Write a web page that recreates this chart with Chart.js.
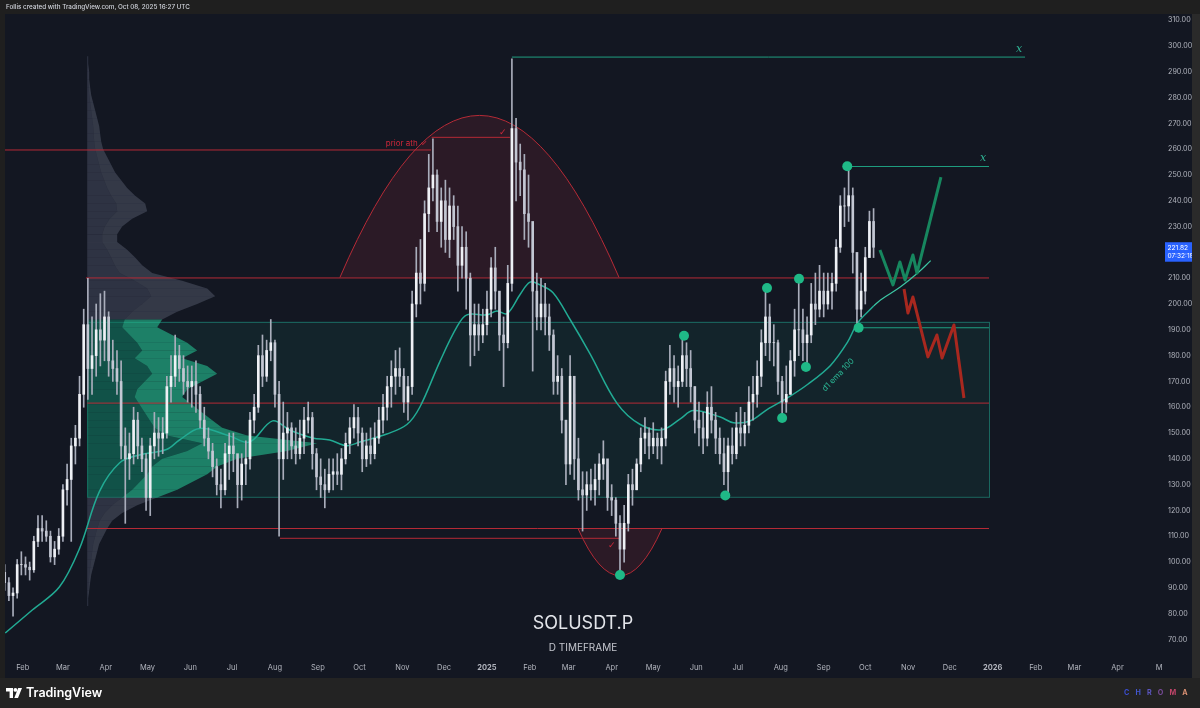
<!DOCTYPE html>
<html lang="en">
<head>
<meta charset="UTF-8">
<title>SOLUSDT.P D</title>
<script src="https://cdn.jsdelivr.net/npm/chart.js"></script>
<style>
  html, body { margin: 0; padding: 0; background: #1e1e1e; }
  #wrap { position: relative; width: 1200px; height: 708px; overflow: hidden; font-family: Inter, "Liberation Sans", sans-serif; }
  #chart { position: absolute; left: 0; top: 0; }
  .t { position: absolute; white-space: nowrap; }
  #hdr { left: 6px; top: 3px; font-size: 6.3px; color: #d1d4dc; font-weight: 500; }
  #sym { left: 433px; width: 300px; text-align: center; top: 612px; font-size: 18px; color: #e3e5ea; }
  #tf { left: 483px; width: 200px; text-align: center; top: 641px; font-size: 10px; color: #c4c6ce; }
  #logo { left: 6px; top: 685px; display: flex; align-items: center; gap: 4px; color: #ffffff; font-size: 12.5px; font-weight: 600; }
  #chroma { left: 1124px; top: 688px; font-size: 7.2px; font-weight: 700; letter-spacing: 6.1px; }
</style>
</head>
<body>
<div id="wrap">
  <canvas id="chart" width="1200" height="708"></canvas>
  <div class="t" id="hdr">Follis created with TradingView.com, Oct 08, 2025 16:27 UTC</div>
  <div class="t" id="sym">SOLUSDT.P</div>
  <div class="t" id="tf">D TIMEFRAME</div>
  <div class="t" id="logo">
    <svg width="16" height="10" viewBox="0 0 16 10"><path d="M0 0h7v10H3.6V3.4H0z" fill="#fff"/><circle cx="9.4" cy="1.9" r="1.9" fill="#fff"/><path d="M12.2 0H16l-4 10H8.3z" fill="#fff"/></svg>
    <span>TradingView</span>
  </div>
  <div class="t" id="chroma"><span style="color:#3b4fd6">C</span><span style="color:#4357d0">H</span><span style="color:#5c56c0">R</span><span style="color:#7a4c9c">O</span><span style="color:#c2456a">M</span><span style="color:#d99073">A</span></div>
</div>
<script>
// days counted from 2024-01-01, one candle sample every 3 days (18 = Jan 19 2024)
const firstDay = 18, dayStep = 3;
const firstOpen = 96;
const lows = [
  89,85,79,86,95,95,93,96,106,108,108,100,99,103,108,122,108,138,145,160,163,165,172,176,178,172,170,165,140,115,
  132,138,140,135,120,118,140,141,142,148,162,168,170,165,162,160,158,152,145,140,133,126,121,126,132,135,121,124,130,136,
  150,158,168,170,178,160,110,132,140,140,138,140,142,150,136,128,125,121,127,128,130,128,138,142,148,145,135,137,138,140,
  146,150,155,160,165,168,158,155,165,195,200,205,228,240,228,222,220,218,225,205,210,198,176,180,182,185,188,195,198,182,
  168,183,205,240,242,225,222,174,190,190,188,182,165,165,150,130,134,132,124,112,120,124,122,126,132,120,118,110,95,100,
  112,122,128,135,142,140,142,140,138,145,165,162,160,168,168,162,150,145,142,145,150,142,138,130,126,138,140,145,145,150,
  155,160,168,180,178,176,165,156,158,165,172,180,178,175,185,192,195,195,198,198,205,220,230,232,212,190,195,200,220,218
];
const highs = [
  99,94,90,101,104,102,100,110,118,118,116,112,108,113,130,138,148,153,172,198,210,195,200,204,205,197,186,182,178,152,
  150,160,158,148,142,148,158,156,156,172,180,188,184,180,176,176,178,168,160,152,146,140,136,146,150,150,140,142,147,158,
  165,184,188,186,194,186,170,162,158,154,152,155,160,162,158,144,140,136,140,140,142,144,150,156,161,160,152,150,152,154,
  160,165,172,178,182,183,175,172,205,222,225,240,258,264,252,245,248,245,242,238,230,228,212,200,200,198,205,218,222,198,
  195,215,295,272,262,258,250,225,212,210,208,200,190,180,175,150,180,165,148,135,135,136,138,142,147,136,130,125,118,122,
  134,136,140,152,156,152,154,150,152,174,184,180,176,187,185,182,168,162,158,166,168,158,152,148,148,152,158,160,158,168,
  172,178,190,206,200,192,186,172,176,182,198,209,198,195,208,212,215,212,212,212,225,242,245,253,245,215,212,222,236,237
];
const closes = [
  92,87,88,99,99,98,97,108,113,112,110,102,105,110,128,132,145,148,165,192,175,180,190,186,195,178,175,170,145,140,
  142,155,145,140,125,145,150,148,150,168,172,180,175,170,168,170,165,155,148,143,137,130,128,142,145,142,130,138,140,155,
  160,180,172,182,185,165,140,150,152,145,142,148,155,156,142,133,130,128,134,135,134,140,146,152,156,150,140,145,142,148,
  155,160,168,172,175,172,162,168,200,212,208,235,245,250,232,240,225,238,230,215,222,210,188,192,188,192,198,214,205,188,
  185,208,268,255,252,235,232,205,195,200,195,188,170,172,155,138,172,140,128,126,130,128,132,138,140,125,124,115,105,115,
  130,128,138,148,150,145,148,145,148,170,175,168,170,180,175,168,155,152,148,160,155,148,142,135,145,142,152,150,153,162,
  165,172,185,195,185,185,170,162,165,178,190,190,185,188,200,198,205,200,205,208,222,238,238,242,220,198,205,218,232,222
];

// d1 ema 100
const emaDays = [18.4,37.9,57.4,71.8,86.3,100.8,115.2,134.7,144.1,158.6,180.3,194.7,211.3,223.6,240.2,252.5,264.8,274.2,293.7,308.2,317.6,332,344.3,351.5,366,373.2,380.5,389.9,397.1,404.3,413.7,426,440.4,460,476.6,492.5,505.5,514.9,534.4,543.8,556.1,568.4,582.8,597.3,613.9,626.2,633.4,645];
const emaVals = [72.5,81.4,90.3,105,127.3,138.4,141.5,143.6,147.3,151.8,148.9,146.5,154.7,151.2,148.1,147.3,145.1,146.5,149.6,153.3,160.1,177.7,191.1,195.8,195.8,197.3,196.3,203.7,208.5,207.4,204.4,194,180.7,161.4,153.3,151.3,155.5,158.7,156.2,154,154.7,159.2,163.6,168.8,176.2,185.2,192.6,199.2];
const emaExtDays = [645,650,664.5,676.8,686.2];
const emaExtVals = [199.2,201.6,206.7,212,216.8];

// drawn projections
const bullDays = [649.6,659,664,667.7,673.4,676.3,693.6];
const bullVals = [220.9,207.4,216.3,209.3,219,212,249.2];
const bearDays = [667,669.8,673.4,684.2,690.7,694.4,703,710.2];
const bearVals = [205.8,196.5,202.7,179.5,188,179.1,191.9,163.6];

// pivot markers
const dotDays = [462,508.2,538,568.1,579,591.2,596.2,626,634.2];
const dotVals = [95,187.7,125.8,206.2,155.8,209.8,175.6,253.4,190.8];

// horizontal levels
const redLevels = [259.7,264.6,210.1,161.6,113,109.2];
const redFrom   = [0,326.1,76.6,77.5,76.6,216.6];
const redTo     = [325.6,382.6,728.3,728.3,728.3,462];
const greenLevels = [295.7,253.3,190.8];
const greenFrom   = [384,625.8,634.5];
const greenTo     = [754.3,728.3,728.3];

// range box and arcs
const boxFrom = 77.5, boxTo = 728.3, boxLow = 125.3, boxHigh = 193.1;
const arcs = [
  {from: 259.9, to: 461.3, base: 210.3, apex: 273.1},
  {from: 431.7, to: 492.3, base: 113, apex: 94.7}
];

// fixed range volume profile (rows of 3 from 296 down)
const profDay = 77.5, profTop = 296, profStep = 3;
const profVol = [
  1,1,2,2,3,4,6,8,10,12,13,14,
  16,20,24,28,34,40,48,58,60,45,35,30,
  30,40,48,55,65,95,120,128,110,90,75,70,
  85,100,110,95,120,130,115,100,95,105,115,125,
  135,160,230,200,150,130,120,105,90,70,50,35,
  25,20,16,12,10,8,6,4,3,2,1,1
];
const vaLow = 125, vaHigh = 193;

// axes
const monthDays = [31,60,91,121,152,182,213,244,274,305,335,366,397,425,456,486,517,547,578,609,639,670,700,731,762,790,821,851];
const monthLabels = ['Feb','Mar','Apr','May','Jun','Jul','Aug','Sep','Oct','Nov','Dec','2025','Feb','Mar','Apr','May','Jun','Jul','Aug','Sep','Oct','Nov','Dec','2026','Feb','Mar','Apr','M'];
const priceTicks = [70,80,90,100,110,120,130,140,150,160,170,180,190,200,210,220,230,240,250,260,270,280,290,300,310];
const lastPrice = 221.82, countdown = '07:32:18';

const RED = '#b52a36', TEAL = '#1f9e80', EMA = '#22ab94';

const sampleDays = closes.map((c, i) => firstDay + i * dayStep);
const wickData = sampleDays.map((d, i) => ({x: d, y: [lows[i], highs[i]]}));
const bodyData = sampleDays.map((d, i) => ({x: d, y: [i ? closes[i - 1] : firstOpen, closes[i]]}));
const pts = (xs, ys) => xs.map((x, i) => ({x: x, y: ys[i]}));

const datasets = [];
redLevels.forEach((p, i) => datasets.push({type: 'line', data: [{x: redFrom[i], y: p}, {x: redTo[i], y: p}], borderColor: RED, borderWidth: 1, pointRadius: 0, order: 20}));
greenLevels.forEach((p, i) => datasets.push({type: 'line', data: [{x: greenFrom[i], y: p}, {x: greenTo[i], y: p}], borderColor: TEAL, borderWidth: 1, pointRadius: 0, order: 20}));
datasets.push({type: 'line', data: pts(emaDays, emaVals), borderColor: EMA, borderWidth: 1.5, pointRadius: 0, tension: 0.35, order: 6});
datasets.push({type: 'bar', data: wickData, backgroundColor: '#a9adbb', barThickness: 1, grouped: false, order: 5});
datasets.push({type: 'bar', data: bodyData, grouped: false, barThickness: 2, order: 4,
  backgroundColor: ctx => { const i = ctx.dataIndex; const o = i ? closes[i - 1] : firstOpen; return closes[i] >= o ? '#eef0f5' : '#c3c7d3'; }});
datasets.push({type: 'line', data: pts(emaExtDays, emaExtVals), borderColor: '#3cc7a4', borderWidth: 1.2, pointRadius: 0, tension: 0.4, order: 3});
datasets.push({type: 'line', data: pts(bullDays, bullVals), borderColor: '#17875f', borderWidth: 3, pointRadius: 0, borderJoinStyle: 'round', order: 2});
datasets.push({type: 'line', data: pts(bearDays, bearVals), borderColor: '#a8281f', borderWidth: 3, pointRadius: 0, borderJoinStyle: 'round', order: 2});
datasets.push({type: 'line', showLine: false, data: pts(dotDays, dotVals), pointRadius: 5, pointBackgroundColor: '#1fb987', pointBorderWidth: 0, order: 1});

const frame = {
  id: 'frame',
  beforeDraw(chart) {
    const c = chart.ctx;
    c.save();
    c.fillStyle = '#1f1f1f'; c.fillRect(0, 0, 1200, 708);
    c.fillStyle = '#232323'; c.fillRect(0, 678, 1200, 30);
    c.fillStyle = '#131722'; c.fillRect(5, 14, 1187, 664);
    c.restore();
  },
  beforeDatasetsDraw(chart) {
    const c = chart.ctx, X = chart.scales.x, Y = chart.scales.y, a = chart.chartArea;
    c.save();
    c.beginPath(); c.rect(a.left, a.top, a.right - a.left, a.bottom - a.top); c.clip();
    // box
    const bx0 = X.getPixelForValue(boxFrom), bx1 = X.getPixelForValue(boxTo);
    const by0 = Y.getPixelForValue(boxHigh), by1 = Y.getPixelForValue(boxLow);
    c.fillStyle = 'rgba(18,160,130,0.10)'; c.fillRect(bx0, by0, bx1 - bx0, by1 - by0);
    c.strokeStyle = 'rgba(34,171,148,0.55)'; c.lineWidth = 1; c.strokeRect(bx0 + 0.5, by0 + 0.5, bx1 - bx0, by1 - by0);
    // arcs
    arcs.forEach(r => {
      const x0 = X.getPixelForValue(r.from), x1 = X.getPixelForValue(r.to), xm = X.getPixelForValue((r.from + r.to) / 2);
      const yb = Y.getPixelForValue(r.base), yc = Y.getPixelForValue(r.base + 2 * (r.apex - r.base));
      c.beginPath(); c.moveTo(x0, yb); c.quadraticCurveTo(xm, yc, x1, yb); c.closePath();
      c.fillStyle = 'rgba(242,54,69,0.11)'; c.fill();
      c.beginPath(); c.moveTo(x0, yb); c.quadraticCurveTo(xm, yc, x1, yb);
      c.strokeStyle = RED; c.lineWidth = 1; c.stroke();
    });
    // volume profile: each gap between two rows filled as a trapezoid (inner part / outer part)
    const x0 = X.getPixelForValue(profDay);
    const wx = v => X.getPixelForValue(profDay + v / 1.3857) - x0;
    const f = 0.5;
    for (let i = 0; i < profVol.length - 1; i++) {
      const p0 = profTop - i * profStep, p1 = p0 - profStep;
      const ya = Y.getPixelForValue(p0), yb = Y.getPixelForValue(p1);
      const w0 = wx(profVol[i]), w1 = wx(profVol[i + 1]);
      const inVA = (p0 + p1) / 2 >= vaLow && (p0 + p1) / 2 <= vaHigh;
      c.beginPath();
      c.moveTo(x0, ya); c.lineTo(x0 + w0 * f, ya); c.lineTo(x0 + w1 * f, yb); c.lineTo(x0, yb); c.closePath();
      c.fillStyle = inVA ? 'rgba(16,120,96,0.55)' : 'rgba(92,98,120,0.38)'; c.fill();
      c.beginPath();
      c.moveTo(x0 + w0 * f, ya); c.lineTo(x0 + w0, ya); c.lineTo(x0 + w1, yb); c.lineTo(x0 + w1 * f, yb); c.closePath();
      c.fillStyle = inVA ? 'rgba(36,186,140,0.62)' : 'rgba(130,136,158,0.30)'; c.fill();
    }
    c.restore();
  },
  afterDatasetsDraw(chart) {
    const c = chart.ctx, X = chart.scales.x, Y = chart.scales.y;
    c.save();
    c.font = '8px Inter, "DejaVu Sans", sans-serif';
    c.fillStyle = '#d0283a'; c.textAlign = 'right'; c.textBaseline = 'alphabetic';
    c.fillText('prior ath \u2713', X.getPixelForValue(redTo[0]) - 4, Y.getPixelForValue(redLevels[0]) - 4);
    c.textAlign = 'center'; c.font = '9px "DejaVu Sans", sans-serif';
    c.fillText('\u2713', X.getPixelForValue(377.5), Y.getPixelForValue(266.8) + 3);
    c.fillText('\u2713', X.getPixelForValue(456), Y.getPixelForValue(106.6) + 3);
    // x marks
    c.fillStyle = '#2fb394'; c.font = 'italic 11px "DejaVu Serif", serif';
    greenLevels.slice(0, 2).forEach((p, i) => c.fillText('x', X.getPixelForValue(greenTo[i]) - 6, Y.getPixelForValue(p) - 5));
    // ema label
    c.save();
    c.translate(X.getPixelForValue(619.5), Y.getPixelForValue(172.5));
    c.rotate(-46 * Math.PI / 180);
    c.font = '8px Inter, sans-serif'; c.fillStyle = '#2bb896'; c.textBaseline = 'middle';
    c.fillText('d1 ema 100', 0, 0);
    c.restore();
    c.restore();
  },
  afterDraw(chart) {
    const c = chart.ctx, Y = chart.scales.y, a = chart.chartArea;
    const y = Y.getPixelForValue(lastPrice);
    c.save();
    c.fillStyle = '#2962ff'; c.fillRect(a.right, y - 5.5, 27, 19.5);
    c.fillStyle = '#ffffff'; c.font = '6.6px Inter, sans-serif'; c.textAlign = 'left'; c.textBaseline = 'middle';
    c.fillText(lastPrice.toFixed(2), a.right + 2.5, y);
    c.fillText(countdown, a.right + 2.5, y + 8.5);
    c.fillStyle = '#2a2a2a'; c.fillRect(1192, 14, 8, 664);
    c.restore();
  }
};

Chart.defaults.font.family = 'Inter, "Liberation Sans", sans-serif';
new Chart(document.getElementById('chart'), {
  type: 'bar',
  data: {datasets: datasets},
  options: {
    responsive: false, animation: false, devicePixelRatio: 1,
    layout: {padding: {left: 5, top: 14, right: 8, bottom: 31}},
    plugins: {legend: {display: false}, tooltip: {enabled: false}},
    scales: {
      x: {
        type: 'linear', min: 18.2, max: 855.3, offset: false,
        grid: {display: false, drawTicks: false}, border: {display: false},
        afterBuildTicks: s => { s.ticks = monthDays.map(v => ({value: v})); },
        afterFit: s => { s.height = 20; },
        ticks: {
          autoSkip: false, maxRotation: 0, padding: 6, color: '#b2b5be',
          font: ctx => ({size: 7.5, weight: /^20/.test(monthLabels[ctx.index] || '') ? 'bold' : 'normal'}),
          callback: (v, i) => monthLabels[i]
        }
      },
      y: {
        type: 'linear', position: 'right', min: 63.2, max: 312.4,
        grid: {display: false, drawTicks: false}, border: {display: false},
        afterBuildTicks: s => { s.ticks = priceTicks.map(v => ({value: v})); },
        afterFit: s => { s.width = 27; },
        ticks: {padding: 3, color: '#b2b5be', font: {size: 7.2}, callback: v => v.toFixed(2)}
      }
    }
  },
  plugins: [frame]
});
</script>
</body>
</html>
